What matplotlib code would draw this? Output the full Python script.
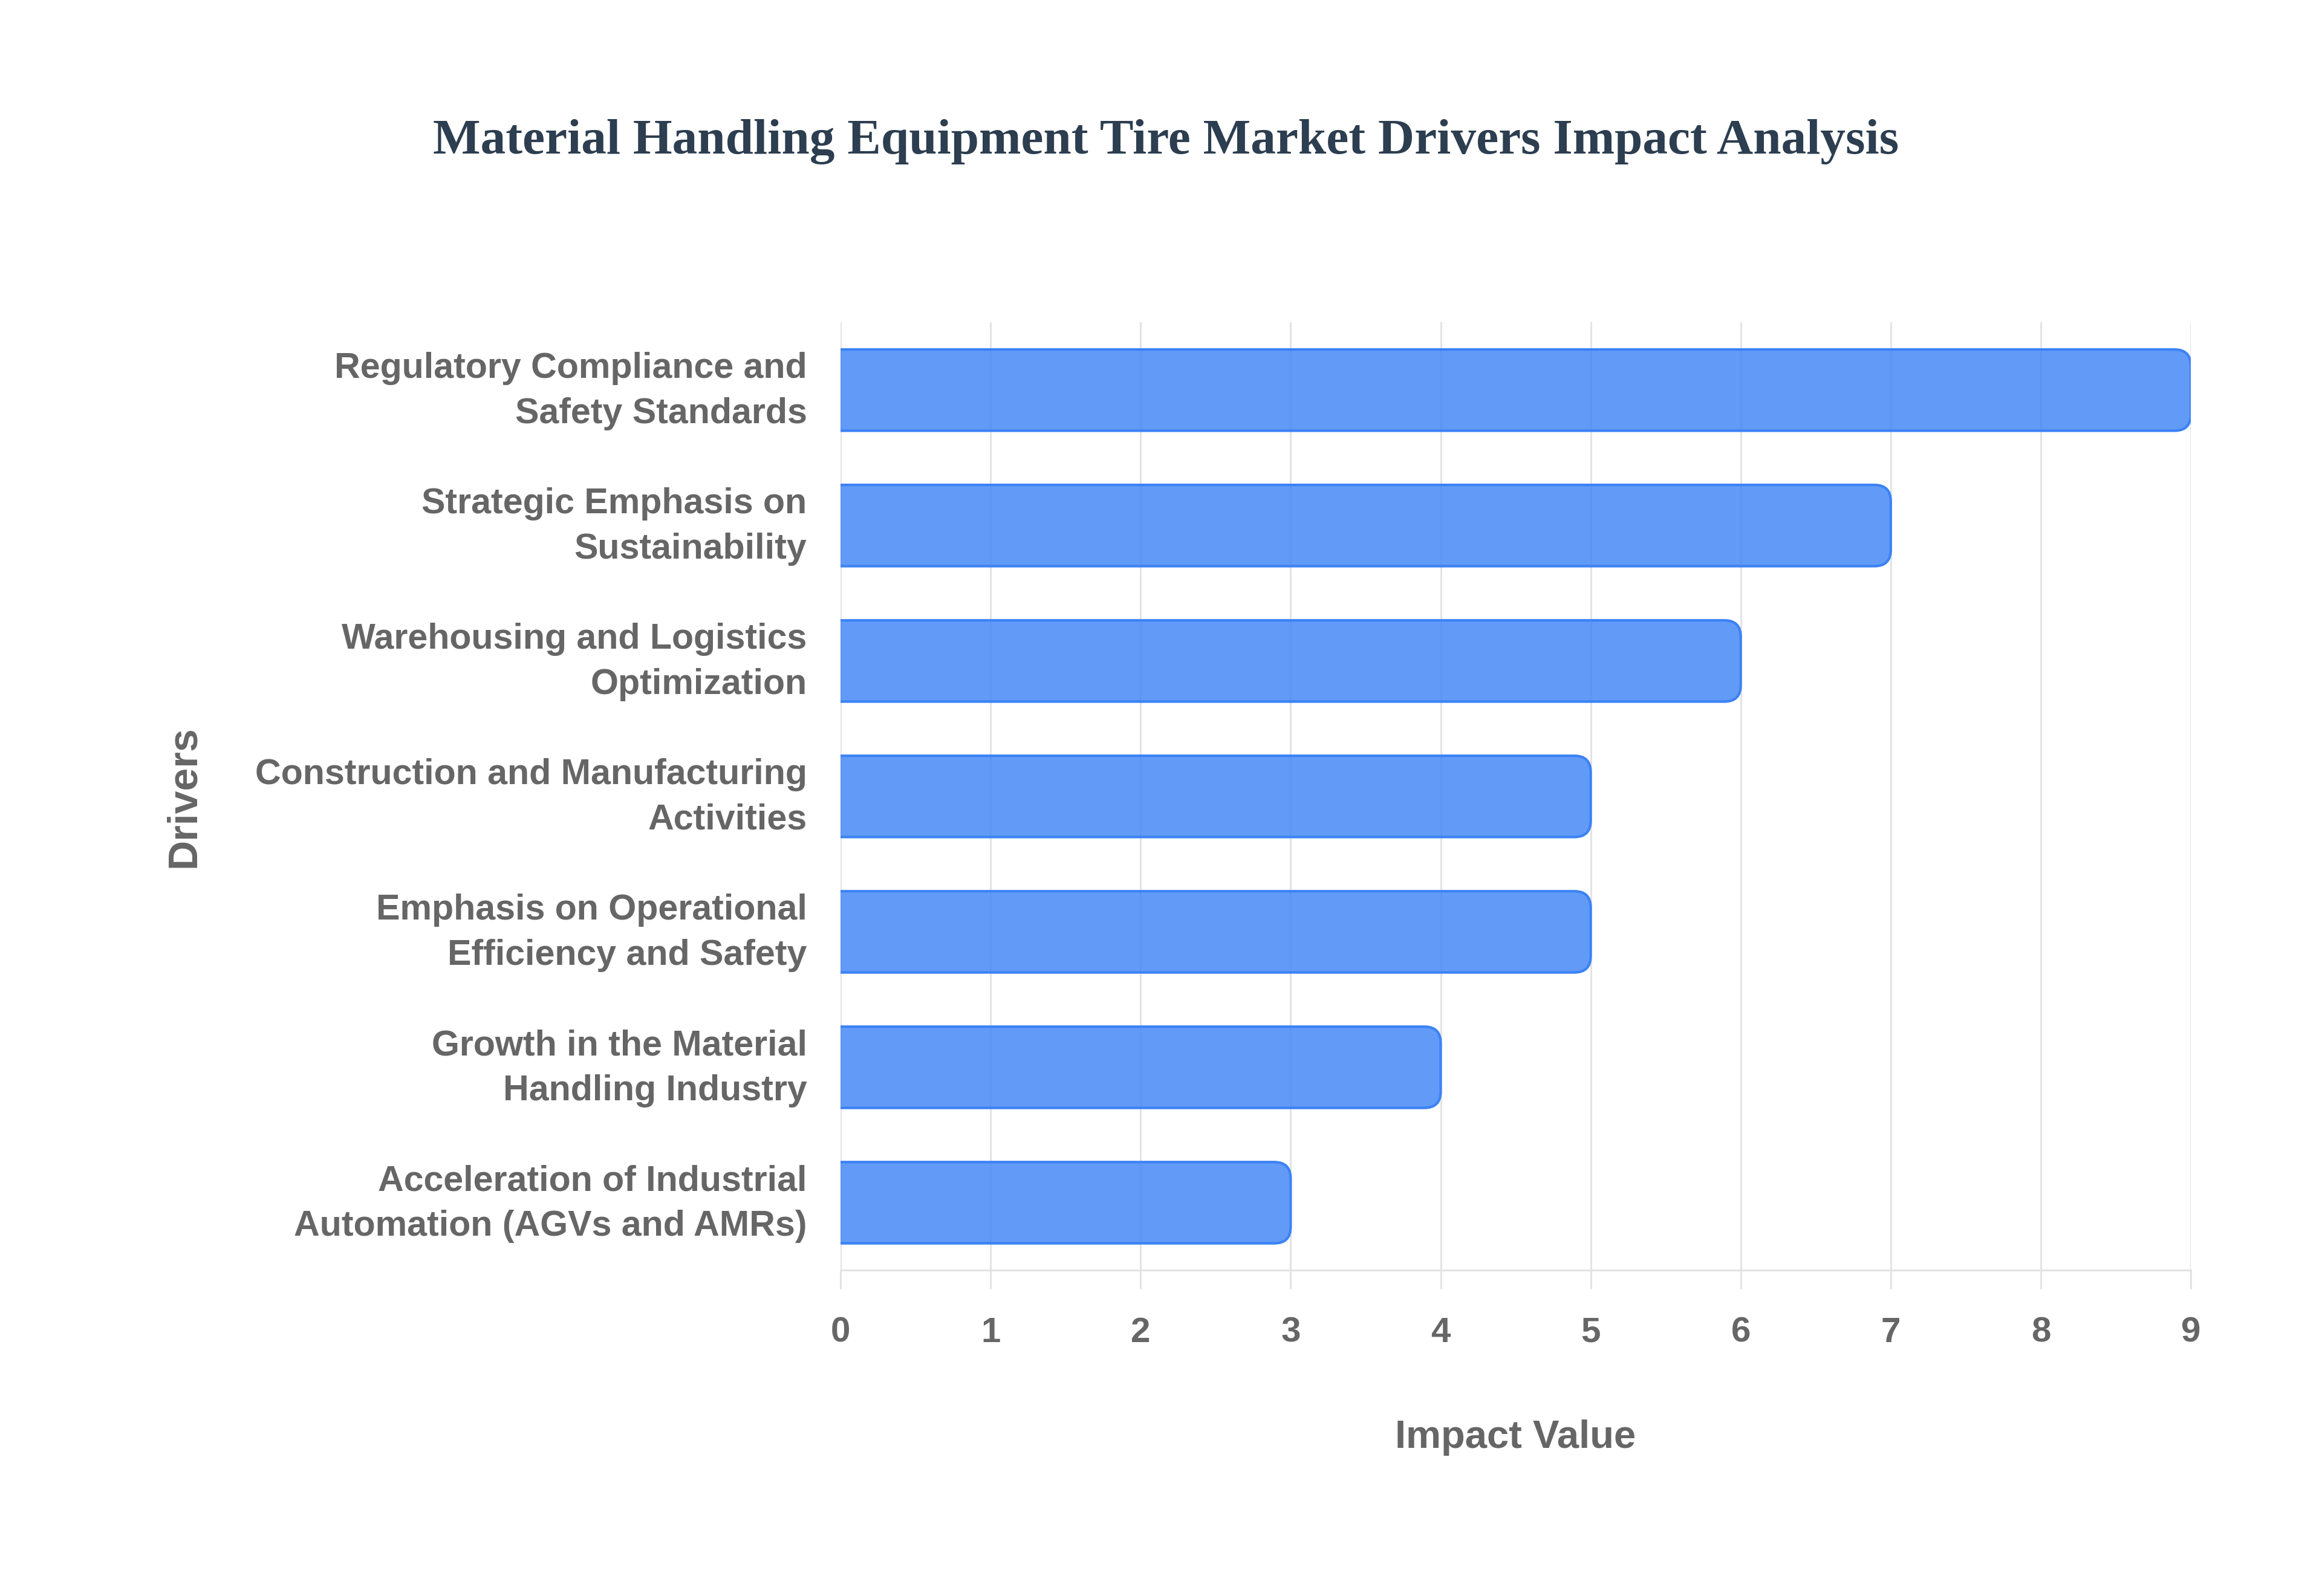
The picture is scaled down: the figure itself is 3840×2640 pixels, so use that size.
import matplotlib
matplotlib.use("Agg")
import matplotlib.pyplot as plt
from matplotlib.patches import FancyBboxPatch
from matplotlib.transforms import ScaledTranslation
import numpy as np

# Données (de haut en bas)
drivers = [
    "Regulatory Compliance and\nSafety Standards",
    "Strategic Emphasis on\nSustainability",
    "Warehousing and Logistics\nOptimization",
    "Construction and Manufacturing\nActivities",
    "Emphasis on Operational\nEfficiency and Safety",
    "Growth in the Material\nHandling Industry",
    "Acceleration of Industrial\nAutomation (AGVs and AMRs)",
]
impact = [9, 7, 6, 5, 5, 4, 3]
x_ticks = [0, 1, 2, 3, 4, 5, 6, 7, 8, 9]

TITLE = "Material Handling Equipment Tire Market Drivers Impact Analysis"
GRID = "#e3e3e3"
TEXT = "#666666"
BAR_FACE = (59 / 255, 130 / 255, 246 / 255, 0.8)
BAR_EDGE = "#3B82F6"

W, H, DPI = 19.2, 13.2, 200
fig = plt.figure(figsize=(W, H), dpi=DPI)
ax_rect = [0.362, 0.204, 0.5815, 0.594]
ax = fig.add_axes(ax_rect)

y = np.arange(len(drivers))
bars = ax.barh(y, impact, height=0.6, color="none", edgecolor="none")

ax.set_xlim(0, 9)
ax.set_ylim(len(drivers) - 0.5, -0.5)

# barres arrondies à droite
px_x = ax_rect[2] * W * DPI / 9.0
px_y = ax_rect[3] * H * DPI / len(drivers)
r_px = 27
r = r_px / px_x
for b in bars:
    bx, by = b.get_x(), b.get_y()
    bw, bh = b.get_width(), b.get_height()
    p = FancyBboxPatch((bx - r, by), bw + r, bh,
                       boxstyle="round,pad=0,rounding_size=%f" % r,
                       mutation_aspect=px_x / px_y,
                       facecolor=BAR_FACE, edgecolor=BAR_EDGE,
                       linewidth=1.5, zorder=3)
    ax.add_patch(p)
    b.remove()

# grille
ax.set_xticks(x_ticks)
ax.grid(axis="x", color=GRID, linewidth=1.1, zorder=0)
ax.set_axisbelow(True)
for s in ["top", "right", "left"]:
    ax.spines[s].set_visible(False)
ax.spines["bottom"].set_color(GRID)
ax.spines["bottom"].set_linewidth(1.1)

ax.tick_params(axis="x", length=11, width=1.1, color=GRID, pad=16.5,
               labelsize=21, labelcolor=TEXT)
ax.tick_params(axis="y", length=0, pad=20, labelsize=21.3, labelcolor=TEXT)
ax.set_yticks(y)
ax.set_yticklabels(drivers, linespacing=1.45)
for lab in ax.get_xticklabels() + ax.get_yticklabels():
    lab.set_fontfamily("Liberation Sans")
    lab.set_fontweight("bold")
# remonter un peu les libellés des drivers
shift = ScaledTranslation(0, 14 / DPI, fig.dpi_scale_trans)
for lab in ax.get_yticklabels():
    lab.set_transform(lab.get_transform() + shift)

ax.set_xlabel("Impact Value", fontsize=23.5, fontweight="bold", color=TEXT,
              family="Liberation Sans", labelpad=42)
ax.set_ylabel("Drivers", fontsize=24.5, fontweight="bold", color=TEXT,
              family="Liberation Sans")
ax.yaxis.set_label_coords(-0.472, 0.5)

fig.text(0.502, 0.911, TITLE, ha="center", va="center", fontsize=30,
         fontweight="bold", color="#2c3e50", family="Liberation Serif")

fig.savefig("out.png", dpi=DPI, facecolor="white")
